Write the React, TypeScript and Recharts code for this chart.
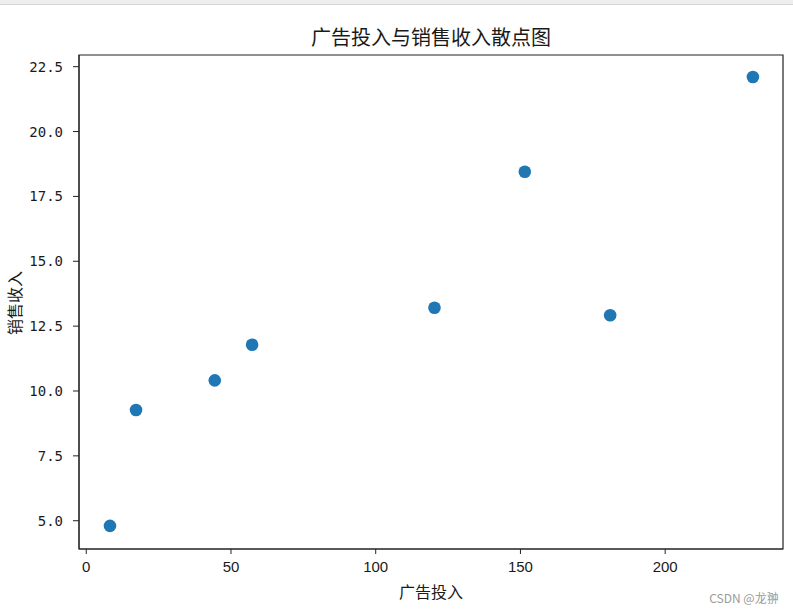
import React from "react";
import {
  ScatterChart,
  Scatter,
  XAxis,
  YAxis,
  ReferenceArea,
} from "recharts";

// 广告投入 (x) and 销售收入 (y)
const adSpend = [8.2, 17.2, 44.4, 57.3, 120.3, 151.5, 181.0, 230.3];
const revenue = [4.8, 9.27, 10.41, 11.78, 13.21, 18.45, 12.92, 22.1];

const xTicks = [0, 50, 100, 150, 200];
const yTicks = [5, 7.5, 10, 12.5, 15, 17.5, 20, 22.5];

const xDomain: [number, number] = [-2.5, 240.7];
const yDomain: [number, number] = [3.91, 22.95];

const points = adSpend.map((x, i) => ({ x, y: revenue[i] }));

const Dot = (props: any) => (
  <circle cx={props.cx} cy={props.cy} r={6.3} fill="#1f77b4" />
);

const abs = (s: React.CSSProperties): React.CSSProperties => ({
  position: "absolute",
  whiteSpace: "nowrap",
  lineHeight: 1,
  color: "#1a1a1a",
  fontFamily: "'Noto Sans CJK SC', sans-serif",
  ...s,
});

export default function App() {
  return (
    <div
      style={{
        position: "absolute",
        left: 0,
        top: 0,
        width: 793,
        height: 614,
        background: "#fff",
        overflow: "hidden",
      }}
    >
      <div
        style={{
          position: "absolute",
          left: 0,
          top: 0,
          width: 793,
          height: 4,
          background: "#eeeeee",
          borderBottom: "1px solid #d6d6d6",
        }}
      />
      <ScatterChart
        width={793}
        height={614}
        margin={{ top: 55, right: 10, bottom: 0, left: 0 }}
      >
        <XAxis
          type="number"
          dataKey="x"
          domain={xDomain}
          ticks={xTicks}
          allowDataOverflow
          height={65}
          stroke="#222"
          tickSize={5}
          tickMargin={7}
          tick={{ fill: "#1a1a1a", fontSize: 15, fontFamily: "'Liberation Sans', Arial" }}
        />
        <YAxis
          type="number"
          dataKey="y"
          domain={yDomain}
          ticks={yTicks}
          allowDataOverflow
          width={79}
          stroke="#222"
          tickSize={6}
          tickMargin={10}
          tickFormatter={(v: number) => v.toFixed(1)}
          tick={{ fill: "#1a1a1a", fontSize: 14, fontFamily: "'DejaVu Sans Mono', monospace" }}
        />
        <ReferenceArea
          x1={xDomain[0]}
          x2={xDomain[1]}
          y1={yDomain[0]}
          y2={yDomain[1]}
          fill="none"
          fillOpacity={0}
          stroke="#222"
          strokeWidth={1.2}
        />
        <Scatter data={points} shape={Dot} isAnimationActive={false} />
      </ScatterChart>

      <div style={abs({ left: 431, top: 37, fontSize: 20, transform: "translate(-50%, -50%)" })}>
        广告投入与销售收入散点图
      </div>
      <div style={abs({ left: 431, top: 591, fontSize: 16, transform: "translate(-50%, -50%)" })}>
        广告投入
      </div>
      <div
        style={abs({
          left: 14,
          top: 303,
          fontSize: 16,
          transform: "translate(-50%, -50%) rotate(-90deg)",
        })}
      >
        销售收入
      </div>
      <div
        style={abs({
          left: 744,
          top: 598,
          fontSize: 12,
          color: "#9a9a9a",
          transform: "translate(-50%, -50%)",
        })}
      >
        CSDN @龙翀
      </div>
    </div>
  );
}
